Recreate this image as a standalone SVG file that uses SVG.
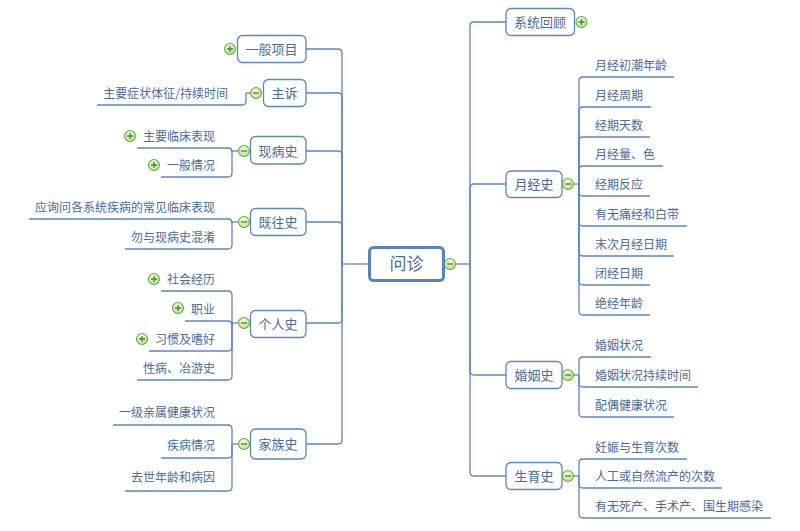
<svg xmlns="http://www.w3.org/2000/svg" width="800" height="531" viewBox="0 0 800 531">
<defs>
<radialGradient id="g" cx="0.4" cy="0.35" r="0.7">
<stop offset="0" stop-color="#f4fbe9"/>
<stop offset="1" stop-color="#b9df92"/>
</radialGradient>
<style>
.ln{fill:none;stroke:#5b86c4;stroke-width:1.3}
.box{fill:#fff;stroke:#5b86c4;stroke-width:1.3}
.t{font-family:"Noto Sans CJK SC","Microsoft YaHei",sans-serif;font-size:12px;fill:#4a6a9c}
.n{font-family:"Noto Sans CJK SC","Microsoft YaHei",sans-serif;font-size:13px;fill:#4a6a9c;text-anchor:middle}
.r{text-anchor:end}
.c{fill:url(#g);stroke:#6aab3c;stroke-width:1.1}
.s{stroke:#3f8a1c;stroke-width:1.3;fill:none}
</style>
</defs>
<rect width="800" height="531" fill="#fff"/>

<g id="connectors">
<!-- center to trunks -->
<path class="ln" d="M342,264 H369"/>
<path class="ln" d="M455.5,264 H470"/>
<!-- left trunk -->
<path class="ln" d="M342,264 V53 Q342,49 338,49 H306"/>
<path class="ln" d="M342,264 V97 Q342,93 338,93 H306"/>
<path class="ln" d="M342,264 V155 Q342,151 338,151 H306"/>
<path class="ln" d="M342,264 V226 Q342,222 338,222 H306"/>
<path class="ln" d="M342,264 V319 Q342,323 338,323 H306"/>
<path class="ln" d="M342,264 V440 Q342,444 338,444 H306"/>
<!-- right trunk -->
<path class="ln" d="M470,264 V26 Q470,22 474,22 H506"/>
<path class="ln" d="M470,264 V188 Q470,184 474,184 H506"/>
<path class="ln" d="M470,264 V371 Q470,375 474,375 H506"/>
<path class="ln" d="M470,264 V472 Q470,476 474,476 H506"/>
<!-- 月经史 children -->
<path class="ln" d="M573.5,184 H579"/>
<path class="ln" d="M579,184 V81 Q579,77 583,77 H674"/>
<path class="ln" d="M579,184 V111 Q579,107 583,107 H651"/>
<path class="ln" d="M579,184 V141 Q579,137 583,137 H650"/>
<path class="ln" d="M579,184 V170 Q579,166 583,166 H663"/>
<path class="ln" d="M579,184 V192 Q579,196 583,196 H650"/>
<path class="ln" d="M579,184 V222 Q579,226 583,226 H687"/>
<path class="ln" d="M579,184 V252 Q579,256 583,256 H674"/>
<path class="ln" d="M579,184 V281 Q579,285 583,285 H650"/>
<path class="ln" d="M579,184 V311 Q579,315 583,315 H650"/>
<!-- 婚姻史 children -->
<path class="ln" d="M573.5,375 H579"/>
<path class="ln" d="M579,375 V361 Q579,357 583,357 H651"/>
<path class="ln" d="M579,375 V383 Q579,387 583,387 H698"/>
<path class="ln" d="M579,375 V413 Q579,417 583,417 H674"/>
<!-- 生育史 children -->
<path class="ln" d="M573.5,476 H579"/>
<path class="ln" d="M579,476 V463 Q579,459 583,459 H687"/>
<path class="ln" d="M579,476 V484 Q579,488 583,488 H722"/>
<path class="ln" d="M579,476 V514 Q579,518 583,518 H771"/>
<!-- 主诉 child -->
<path class="ln" d="M250.5,93 H246"/>
<path class="ln" d="M246,93 V101 Q246,105 242,105 H97"/>
<!-- 现病史 children -->
<path class="ln" d="M238.5,151 H232"/>
<path class="ln" d="M232,151 V152 Q232,148 228,148 H137"/>
<path class="ln" d="M232,151 V173 Q232,177 228,177 H161"/>
<!-- 既往史 children -->
<path class="ln" d="M238.5,222 H232"/>
<path class="ln" d="M232,222 V223 Q232,219 228,219 H29"/>
<path class="ln" d="M232,222 V245 Q232,249 228,249 H125"/>
<!-- 个人史 children -->
<path class="ln" d="M238.5,323 H232"/>
<path class="ln" d="M232,323 V295 Q232,291 228,291 H161"/>
<path class="ln" d="M232,323 V325 Q232,321 228,321 H185"/>
<path class="ln" d="M232,323 V347 Q232,351 228,351 H149"/>
<path class="ln" d="M232,323 V376 Q232,380 228,380 H137"/>
<!-- 家族史 children -->
<path class="ln" d="M238.5,444 H232"/>
<path class="ln" d="M232,444 V429 Q232,425 228,425 H113"/>
<path class="ln" d="M232,444 V454 Q232,458 228,458 H161"/>
<path class="ln" d="M232,444 V487 Q232,491 228,491 H125"/>
</g>

<g id="center">
<rect x="369.5" y="247.5" width="74" height="33" rx="4" fill="#fff" stroke="#5583c3" stroke-width="3"/>
<text class="n" x="406.5" y="270" style="font-size:17px">问诊</text>
<circle class="c" cx="450" cy="264" r="5.5"/><path class="s" d="M447,264 H453"/>
</g>

<g id="n-yibanxiangmu">
<rect class="box" x="237.5" y="35.5" width="68.5" height="27" rx="5"/>
<text class="n" x="271.5" y="53.5">一般项目</text>
<circle class="c" cx="230" cy="49" r="5.5"/><path class="s" d="M227,49 H233 M230,46 V52"/>
</g>

<g id="n-zhusu">
<rect class="box" x="263.5" y="79.5" width="42.5" height="27" rx="5"/>
<text class="n" x="284.5" y="97.5">主诉</text>
<circle class="c" cx="256" cy="93" r="5.5"/><path class="s" d="M253,93 H259"/>
<text class="t r" x="228" y="98">主要症状体征/持续时间</text>
</g>

<g id="n-xianbingshi">
<rect class="box" x="250.5" y="136.5" width="55.5" height="27.5" rx="5"/>
<text class="n" x="278" y="155.5">现病史</text>
<circle class="c" cx="244" cy="151" r="5.5"/><path class="s" d="M241,151 H247"/>
<text class="t r" x="215" y="141">主要临床表现</text>
<circle class="c" cx="130" cy="136" r="5.5"/><path class="s" d="M127,136 H133 M130,133 V139"/>
<text class="t r" x="215" y="170">一般情况</text>
<circle class="c" cx="154" cy="165" r="5.5"/><path class="s" d="M151,165 H157 M154,162 V168"/>
</g>

<g id="n-jiwangshi">
<rect class="box" x="250.5" y="208.5" width="55.5" height="27" rx="5"/>
<text class="n" x="278" y="226.5">既往史</text>
<circle class="c" cx="244" cy="222" r="5.5"/><path class="s" d="M241,222 H247"/>
<text class="t r" x="215" y="212">应询问各系统疾病的常见临床表现</text>
<text class="t r" x="215" y="242">勿与现病史混淆</text>
</g>

<g id="n-gerenshi">
<rect class="box" x="250.5" y="310.5" width="55.5" height="27" rx="5"/>
<text class="n" x="278" y="328.5">个人史</text>
<circle class="c" cx="244" cy="323" r="5.5"/><path class="s" d="M241,323 H247"/>
<text class="t r" x="215" y="284">社会经历</text>
<circle class="c" cx="154" cy="279" r="5.5"/><path class="s" d="M151,279 H157 M154,276 V282"/>
<text class="t r" x="215" y="314">职业</text>
<circle class="c" cx="178" cy="308" r="5.5"/><path class="s" d="M175,308 H181 M178,305 V311"/>
<text class="t r" x="215" y="344">习惯及嗜好</text>
<circle class="c" cx="142" cy="339" r="5.5"/><path class="s" d="M139,339 H145 M142,336 V342"/>
<text class="t r" x="215" y="373">性病、冶游史</text>
</g>

<g id="n-jiazushi">
<rect class="box" x="250.5" y="429" width="55.5" height="30" rx="5"/>
<text class="n" x="278" y="448.5">家族史</text>
<circle class="c" cx="244" cy="444" r="5.5"/><path class="s" d="M241,444 H247"/>
<text class="t r" x="215" y="417">一级亲属健康状况</text>
<text class="t r" x="215" y="450">疾病情况</text>
<text class="t r" x="215" y="482">去世年龄和病因</text>
</g>

<g id="n-xitonghuigu">
<rect class="box" x="506" y="8.5" width="68.5" height="27" rx="5"/>
<text class="n" x="540" y="26.5">系统回顾</text>
<circle class="c" cx="581.5" cy="22" r="5.5"/><path class="s" d="M578.5,22 H584.5 M581.5,19 V25"/>
</g>

<g id="n-yuejingshi">
<rect class="box" x="506" y="171" width="56" height="26.5" rx="5"/>
<text class="n" x="534" y="188.5">月经史</text>
<circle class="c" cx="568" cy="184" r="5.5"/><path class="s" d="M565,184 H571"/>
<text class="t" x="595" y="70">月经初潮年龄</text>
<text class="t" x="595" y="100">月经周期</text>
<text class="t" x="595" y="130">经期天数</text>
<text class="t" x="595" y="159">月经量、色</text>
<text class="t" x="595" y="189">经期反应</text>
<text class="t" x="595" y="219">有无痛经和白带</text>
<text class="t" x="595" y="249">末次月经日期</text>
<text class="t" x="595" y="278">闭经日期</text>
<text class="t" x="595" y="308">绝经年龄</text>
</g>

<g id="n-hunyinshi">
<rect class="box" x="506" y="361.5" width="56" height="27" rx="5"/>
<text class="n" x="534" y="379.5">婚姻史</text>
<circle class="c" cx="568" cy="375" r="5.5"/><path class="s" d="M565,375 H571"/>
<text class="t" x="595" y="350">婚姻状况</text>
<text class="t" x="595" y="380">婚姻状况持续时间</text>
<text class="t" x="595" y="410">配偶健康状况</text>
</g>

<g id="n-shengyushi">
<rect class="box" x="506" y="462.5" width="56" height="27" rx="5"/>
<text class="n" x="534" y="480.5">生育史</text>
<circle class="c" cx="568" cy="476" r="5.5"/><path class="s" d="M565,476 H571"/>
<text class="t" x="595" y="452">妊娠与生育次数</text>
<text class="t" x="595" y="481">人工或自然流产的次数</text>
<text class="t" x="595" y="511">有无死产、手术产、围生期感染</text>
</g>
</svg>
